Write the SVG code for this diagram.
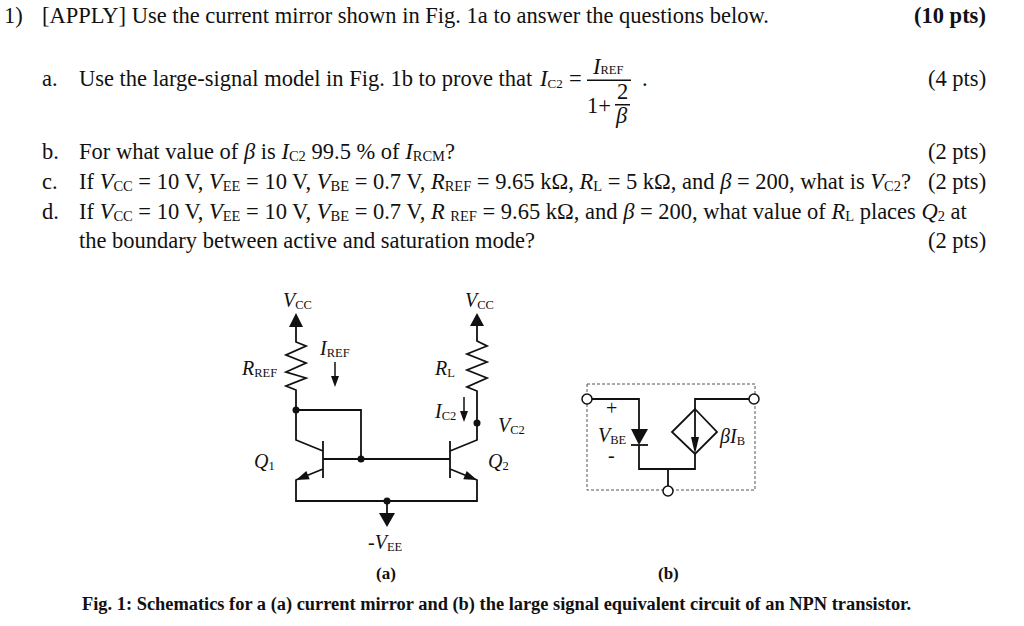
<svg xmlns="http://www.w3.org/2000/svg" width="1024" height="626" viewBox="0 0 1024 626">
<style>
text{font-family:"Liberation Serif","Times New Roman",serif;font-size:22.5px;fill:#111}
.i{font-style:italic}
.s{font-size:14.5px;baseline-shift:-2px;font-style:normal}
.d text{font-size:20px}
.d .s{font-size:12.5px}
.b{font-weight:bold}
.c{font-size:18.4px}
.w{fill:none;stroke:#111;stroke-width:1.8;stroke-linejoin:miter}
.f{fill:#111;stroke:none}
.o{fill:#fff;stroke:#111;stroke-width:1.5}
.t{fill:none;stroke:#111;stroke-width:1.5}
</style>
<rect width="1024" height="626" fill="#fff"/>
<g id="question">
<text x="4" y="23">1)</text>
<text x="42" y="23">[APPLY] Use the current mirror shown in Fig. 1a to answer the questions below.</text>
<text x="914" y="23" class="b">(10 pts)</text>
<text x="42" y="86">a.</text>
<text x="79" y="86">Use the large-signal model in Fig. 1b to prove that</text>
<text x="540" y="86" class="i">I<tspan class="s" style="font-size:13px">C2</tspan></text>
<text x="569" y="86">=</text>
<text x="593" y="74" class="i">I<tspan style="font-size:12.5px;font-style:normal">REF</tspan></text>
<rect x="587" y="79.5" width="44" height="1.5" fill="#111"/>
<text x="587" y="113">1+</text>
<text x="617" y="99">2</text>
<rect x="615" y="104" width="15" height="1.5" fill="#111"/>
<text x="616" y="123" class="i">β</text>
<text x="642" y="86">.</text>
<text x="928" y="86">(4 pts)</text>
<text x="42" y="159">b.</text>
<text x="79" y="159">For what value of <tspan class="i">β</tspan> is <tspan class="i">I</tspan><tspan class="s">C2</tspan> 99.5 % of <tspan class="i">I</tspan><tspan class="s">RCM</tspan>?</text>
<text x="928" y="159">(2 pts)</text>
<text x="42" y="189">c.</text>
<text x="79" y="189">If <tspan class="i">V</tspan><tspan class="s">CC</tspan> = 10 V, <tspan class="i">V</tspan><tspan class="s">EE</tspan> = 10 V, <tspan class="i">V</tspan><tspan class="s">BE</tspan> = 0.7 V, <tspan class="i">R</tspan><tspan class="s">REF</tspan> = 9.65 kΩ, <tspan class="i">R</tspan><tspan class="s">L</tspan> = 5 kΩ, and <tspan class="i">β</tspan> = 200, what is <tspan class="i">V</tspan><tspan class="s">C2</tspan>?</text>
<text x="928" y="189">(2 pts)</text>
<text x="42" y="219">d.</text>
<text x="79" y="219">If <tspan class="i">V</tspan><tspan class="s">CC</tspan> = 10 V, <tspan class="i">V</tspan><tspan class="s">EE</tspan> = 10 V, <tspan class="i">V</tspan><tspan class="s">BE</tspan> = 0.7 V, <tspan class="i">R </tspan><tspan class="s">REF</tspan> = 9.65 kΩ, and <tspan class="i">β</tspan> = 200, what value of <tspan class="i">R</tspan><tspan class="s">L</tspan> places <tspan class="i">Q</tspan><tspan class="s">2</tspan> at</text>
<text x="79" y="248">the boundary between active and saturation mode?</text>
<text x="928" y="248">(2 pts)</text>
</g>
<g id="connectors">
<path class="w" d="M296 326V342L306 346L286 355L306 363L286 372L306 378L286 386L296 390V440L323 451"/>
<path class="w" d="M296 410H361V459"/>
<path class="w" d="M323 459H450"/>
<path class="w" d="M323 441V478M450 441V478"/>
<path class="w" d="M323 469L296 480V501H477V480L450 469"/>
<path class="w" d="M477 325V341L487 346L467 354L487 362L467 370L487 378L467 387L477 391V440L450 451"/>
<path class="w" d="M387 501V514"/>
<path class="f" d="M296 313L289 327H303ZM477 313L470 326H484ZM387 527L379 513H395ZM296 480L309.700 479.300L306.300 470.900ZM477 480L463.300 479.300L466.700 470.900Z"/>
<circle class="f" cx="296" cy="410" r="3.5"/>
<circle class="f" cx="361" cy="459" r="3.5"/>
<circle class="f" cx="387" cy="501" r="3.5"/>
<circle class="f" cx="477" cy="423" r="3.5"/>
<path class="t" d="M335 362V378M464 397V414"/>
<path class="f" d="M335 387L331 376H339ZM464 422L460 411H468Z"/>
</g>
<g id="circuit-a-labels" class="d">
<text x="283" y="307" class="i">V<tspan class="s">CC</tspan></text>
<text x="465" y="307" class="i">V<tspan class="s">CC</tspan></text>
<text x="320" y="355" class="i">I<tspan class="s">REF</tspan></text>
<text x="242" y="375" class="i">R<tspan class="s">REF</tspan></text>
<text x="435" y="375" class="i">R<tspan class="s">L</tspan></text>
<text x="435" y="418" class="i">I<tspan class="s">C2</tspan></text>
<text x="498" y="432" class="i">V<tspan class="s">C2</tspan></text>
<text x="254" y="468" class="i">Q<tspan class="s">1</tspan></text>
<text x="488" y="468" class="i">Q<tspan class="s">2</tspan></text>
<text x="368" y="549">-<tspan class="i">V</tspan><tspan class="s">EE</tspan></text>
</g>
<g id="circuit-b">
<rect x="587" y="384" width="168" height="106" fill="none" stroke="#555" stroke-width="1" stroke-dasharray="3 2"/>
<path class="w" d="M591 399H639V429M639 445V469H695V454M668 469V486M695 409V399H750"/>
<path class="f" d="M631 429H648L639 445Z"/>
<path class="w" d="M631 445H648"/>
<path class="w" d="M695 409L717 432L695 454L672 432Z"/>
<path class="w" d="M695 409V440"/>
<path class="f" d="M695 454L691 437H699Z"/>
<circle class="o" cx="587" cy="399" r="5"/>
<circle class="o" cx="754" cy="399" r="5"/>
<circle class="o" cx="668" cy="491" r="5"/>
<g class="d">
<text x="606" y="415">+</text>
<text x="598" y="442" class="i">V<tspan class="s">BE</tspan></text>
<text x="608" y="462">-</text>
<text x="720" y="443" class="i">βI<tspan class="s">B</tspan></text>
</g>
</g>
<g id="caption">
<text x="376" y="579" class="b" style="font-size:17px">(a)</text>
<text x="658" y="579" class="b" style="font-size:17px">(b)</text>
<text x="82" y="610" class="b c">Fig. 1: Schematics for a (a) current mirror and (b) the large signal equivalent circuit of an NPN transistor.</text>
</g>
</svg>
